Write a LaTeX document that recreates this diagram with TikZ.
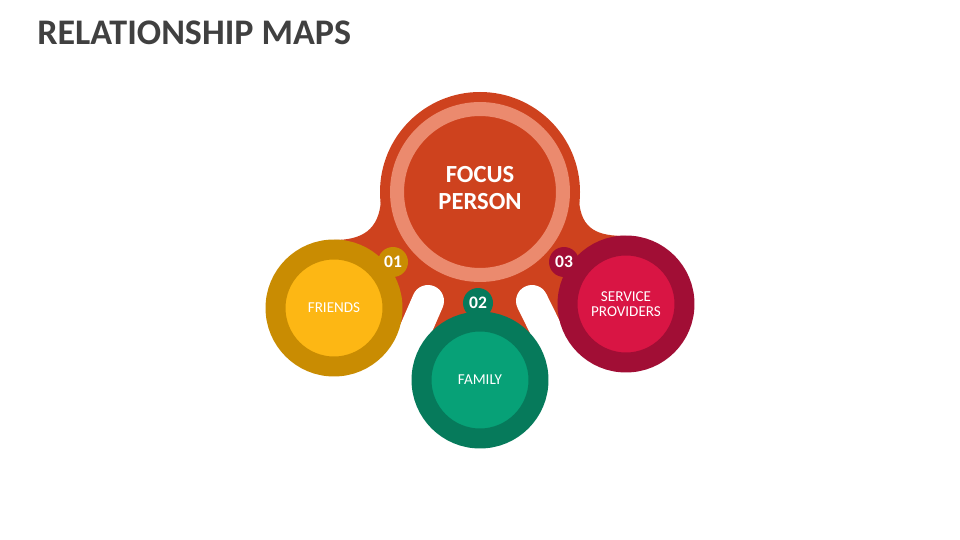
\documentclass[tikz,border=0pt]{standalone}
\usepackage{fontspec}
\setmainfont{Carlito}
\definecolor{rust}{HTML}{CE421E}
\definecolor{salmon}{HTML}{EB8A6E}
\definecolor{ochre}{HTML}{C98C02}
\definecolor{amber}{HTML}{FDB714}
\definecolor{pine}{HTML}{067A5B}
\definecolor{jade}{HTML}{07A177}
\definecolor{wine}{HTML}{A10E35}
\definecolor{crimson}{HTML}{D91544}
\definecolor{slate}{HTML}{404040}

\begin{document}
\begin{tikzpicture}[
    x=0.02cm, y=-0.02cm,
    hub/.style={circle, fill=rust, draw=salmon, line width=0.28cm, inner sep=0pt, minimum size=3.32cm, text=white, align=center, font=\bfseries\fontsize{14}{15.3}\selectfont},
    member/.style={circle, line width=0.4cm, inner sep=0pt, minimum size=2.34cm, text=white, align=center, font=\fontsize{8.6}{8.8}\selectfont},
    badge/.style={circle, inner sep=0pt, minimum size=0.6cm, text=white, font=\bfseries\fontsize{10}{10}\selectfont},
    channel/.style={white, line width=0.64cm, line cap=round},
  ]
  \useasboundingbox (0,0) rectangle (960,540);
  \node[anchor=base west, inner sep=0pt, text=slate, font=\bfseries\fontsize{20.5}{24}\selectfont] (title) at (37,45) {RELATIONSHIP MAPS};

  % backdrop behind the circles
  \fill[rust] (480,192) circle[radius=100];
  \fill[rust] (334,240) .. controls (362,240) and (379,230) .. (381,200) -- (579,200)
    .. controls (581,230) and (598,236) .. (626,236) -- (626,304) -- (480,380) -- (334,308) -- cycle;
  \draw[channel] (428,301) -- (398,370);
  \draw[channel] (532,301) -- (566,370);

  \node[hub] (focus) at (480,192) {FOCUS\\PERSON\strut};
  \node[member, fill=amber, draw=ochre] (friends) at (334,308) {FRIENDS};
  \node[member, fill=jade, draw=pine] (family) at (480,380) {FAMILY};
  \node[member, fill=crimson, draw=wine] (service) at (626,304) {SERVICE\\PROVIDERS};

  \node[badge, fill=ochre] (one) at (393,262) {01};
  \node[badge, fill=pine] (two) at (478,303) {02};
  \node[badge, fill=wine] (three) at (564,262) {03};
\end{tikzpicture}
\end{document}
